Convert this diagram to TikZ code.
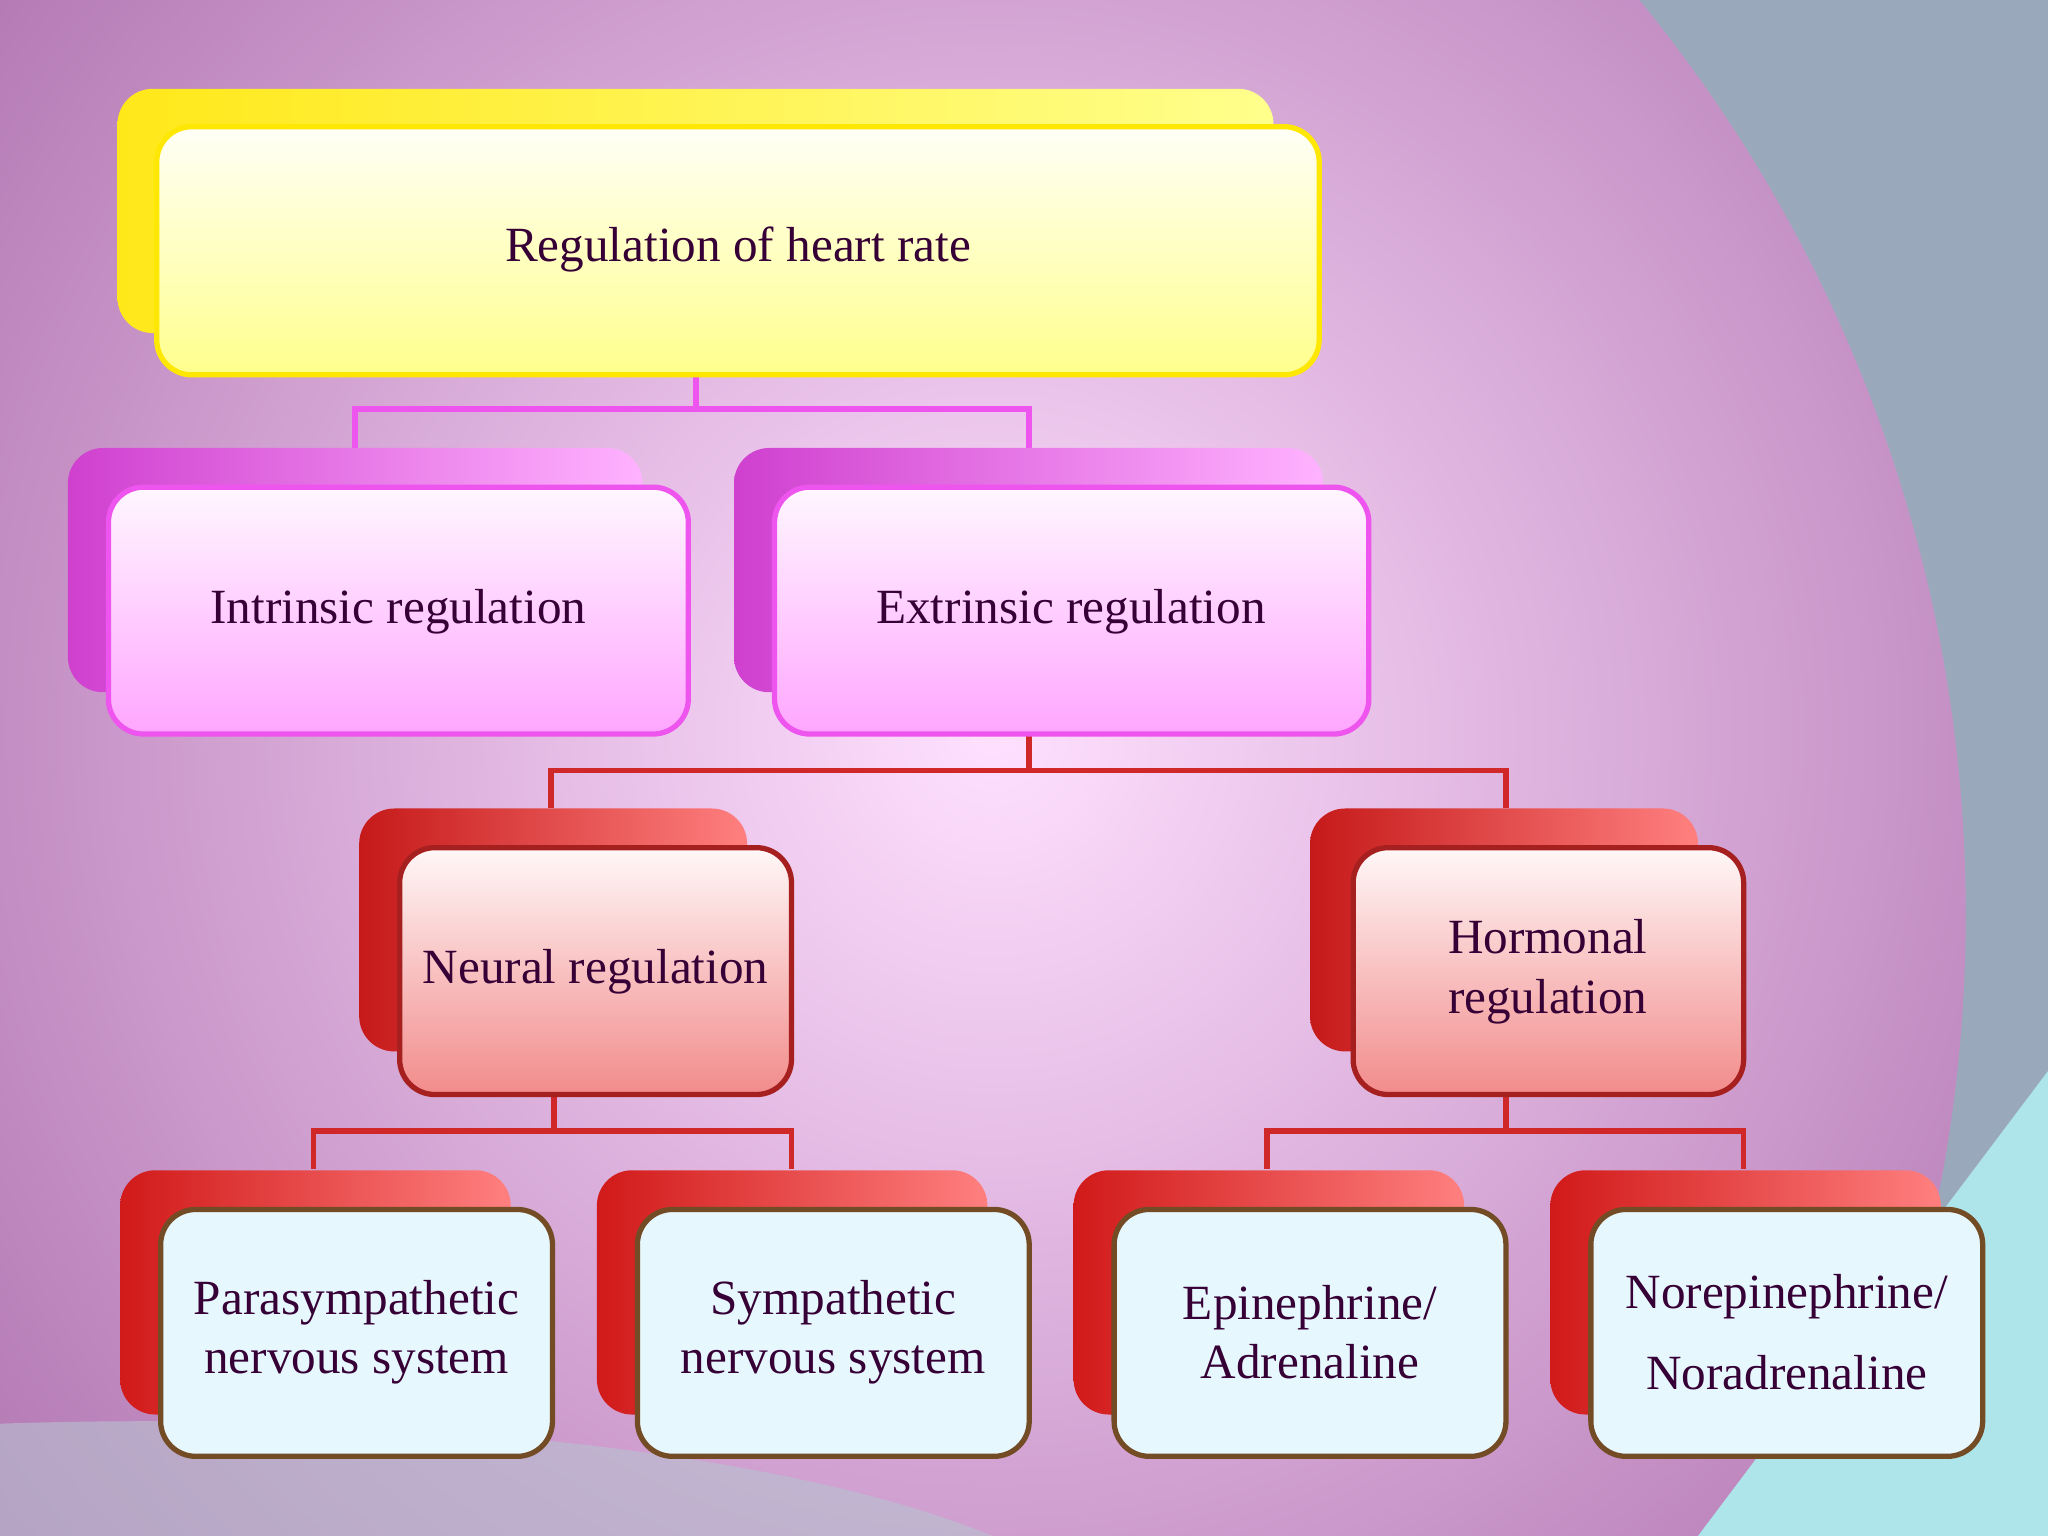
\documentclass[tikz,border=0pt]{standalone}
\usepackage{fontspec}
\setmainfont{Liberation Serif}
\begin{document}
\begin{tikzpicture}[x=0.01306cm,y=-0.01306cm,
  txt/.style={font=\fontsize{14}{17}\selectfont, text=black!40!violet!70!black, align=center},
  cn/.style={line width=1.6pt},
  fr/.style={rounded corners=10pt, line width=1.5pt},
  bk/.style={rounded corners=10pt}]
\definecolor{bgblue}{HTML}{9AA8BC}
\definecolor{pinkc}{HTML}{EE55EE}
\definecolor{redc}{HTML}{D02828}
\useasboundingbox (0,0) rectangle (1568,1176);
\fill[bgblue] (0,0) rectangle (1568,1176);
\begin{scope}
\clip (400,700) circle (1105);
\clip (0,0) rectangle (1568,1176);
\shade[inner color=magenta!12!white, outer color=violet!55!white!85!gray] (760,560) circle (1000);
\end{scope}
\fill[color=bgblue!60!cyan!50!white] (1568,820) -- (1300,1176) -- (1568,1176) -- cycle;
\fill[bgblue!70!white, opacity=0.6] (0,1090) .. controls (300,1080) and (600,1110) .. (760,1176) -- (0,1176) -- cycle;

% connectors
\coordinate (t1) at (533,313);
\draw[pinkc, cn] (533,287) -- (t1) (272,343) -- (272,313) -- (788,313) -- (788,343);
\draw[redc, cn] (788,562) -- (788,590) (422,619) -- (422,590) -- (1153,590) -- (1153,619);
\draw[redc, cn] (424,838) -- (424,866) (240,895) -- (240,866) -- (606,866) -- (606,895);
\draw[redc, cn] (1153,838) -- (1153,866) (970,895) -- (970,866) -- (1335,866) -- (1335,895);

% top
\shade[bk, left color=yellow!80!orange!90!white, right color=yellow!45!white] (90,68) rectangle (975,255);
\shade[fr, top color=yellow!3!white, bottom color=yellow!45!white, draw=yellow!90!orange] (120,97) rectangle (1010,287);
\node[txt] (top) at (565,191) {Regulation of heart rate};

% pink
\foreach \a/\b/\c/\d in {52/343/492/530, 562/343/1013/530}
  \shade[bk, left color=magenta!50!violet!75!white, right color=magenta!30!white] (\a,\b) rectangle (\c,\d);
\foreach \a/\b/\c/\d in {83/373/527/562, 593/373/1048/562}
  \shade[fr, top color=magenta!3!white, bottom color=magenta!35!white, draw=pinkc] (\a,\b) rectangle (\c,\d);
\node[txt] (intr) at (305,468) {Intrinsic regulation};
\node[txt] (extr) at (820,468) {Extrinsic regulation};

% red mid
\foreach \a/\b/\c/\d in {275/619/572/805, 1003/619/1300/805}
  \shade[bk, left color=red!75!black!90!white, right color=red!50!white] (\a,\b) rectangle (\c,\d);
\foreach \a/\b/\c/\d in {306/649/606/838, 1036/649/1335/838}
  \shade[fr, top color=red!3!white, bottom color=red!45!white!90!gray, draw=redc!80!black] (\a,\b) rectangle (\c,\d);
\node[txt] (neur) at (456,744) {Neural regulation};
\node[txt] (horm) at (1185,744) {Hormonal\\regulation};

% bottom
\foreach \x in {123,488,853,1218}{
  \shade[bk, left color=red!80!black!90!white, right color=red!50!white] (\x-31,896) rectangle (\x+268,1083);
  \fill[fr, fill=cyan!10!white, draw=brown!60!black] (\x,926) rectangle (\x+300,1115);
}
\node[txt] (para) at (273,1020) {Parasympathetic\\nervous system};
\node[txt] (symp) at (638,1020) {Sympathetic\\nervous system};
\node[txt] (epi) at (1003,1020) {Epinephrine/\\Adrenaline};
\node[txt, align=center] (nor) at (1368,1020) {Norepinephrine/\\[6pt]Noradrenaline};
\end{tikzpicture}
\end{document}
